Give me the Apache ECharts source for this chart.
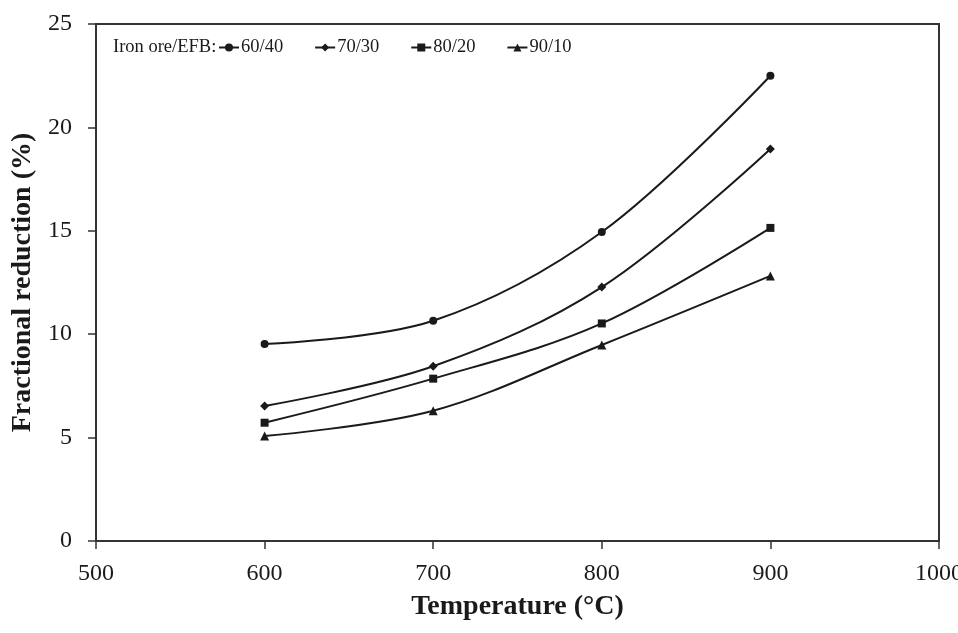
<!DOCTYPE html>
<html>
<head>
<meta charset="utf-8">
<script src="https://cdn.jsdelivr.net/npm/echarts@6/dist/echarts.min.js"></script>
<style>
  html, body { margin: 0; padding: 0; background: #fff; }
  #chart { width: 958px; height: 633px; }
</style>
</head>
<body>
<div id="chart"></div>
<script>
// temperatures (°C) and fractional reduction (%) per iron ore/EFB ratio
var temps = [600, 700, 800, 900];
var ratio6040 = [9.53, 10.65, 14.94, 22.5];
var ratio7030 = [6.53, 8.45, 12.28, 18.96];
var ratio8020 = [5.72, 7.85, 10.52, 15.14];
var ratio9010 = [5.08, 6.3, 9.48, 12.82];

var names = ['60/40', '70/30', '80/20', '90/10'];
var symbols = ['circle', 'diamond', 'rect', 'triangle'];
var sizes = [8, 9, 8, 9];
var values = [ratio6040, ratio7030, ratio8020, ratio9010];

var font = 'Liberation Serif, Times New Roman, serif';

function pairs(ys) {
  return temps.map(function (t, i) { return [t, ys[i]]; });
}

var series = names.map(function (n, i) {
  return {
    name: n,
    type: 'line',
    data: pairs(values[i]),
    smooth: 0.35,
    symbol: symbols[i],
    symbolSize: sizes[i],
    lineStyle: { color: '#1a1a1a', width: 2 },
    itemStyle: { color: '#1a1a1a' }
  };
});

var chart = echarts.init(document.getElementById('chart'));
chart.setOption({
  animation: false,
  backgroundColor: '#fff',
  grid: {
    left: 96, right: 19, top: 24, bottom: 92,
    outerBoundsMode: 'none', containLabel: false,
    show: true, borderColor: '#333', borderWidth: 2, backgroundColor: 'transparent'
  },
  graphic: [{
    type: 'text', x: 113, y: 47,
    style: { text: 'Iron ore/EFB:', font: '18.5px ' + font, fill: '#1a1a1a', verticalAlign: 'middle' }
  }],
  legend: {
    left: 218, top: 38, padding: 0,
    itemWidth: 20, itemHeight: 10, itemGap: 31,
    textStyle: { fontFamily: font, fontSize: 18.5, color: '#1a1a1a', padding: [0, 0, 0, -3] },
    data: names
  },
  xAxis: {
    type: 'value', min: 500, max: 1000, interval: 100,
    name: 'Temperature (°C)', nameLocation: 'middle', nameGap: 52,
    nameTextStyle: { fontFamily: font, fontSize: 28, fontWeight: 'bold', color: '#1a1a1a' },
    axisLine: { show: true, lineStyle: { color: '#333', width: 2 } },
    axisTick: { show: true, inside: false, length: 8, lineStyle: { color: '#333', width: 1.5 } },
    axisLabel: { fontFamily: font, fontSize: 24, color: '#1a1a1a', margin: 21, formatter: function (v) { return String(v); } },
    splitLine: { show: false }
  },
  yAxis: {
    type: 'value', min: 0, max: 25, interval: 5,
    name: 'Fractional reduction (%)', nameLocation: 'middle', nameGap: 57,
    nameTextStyle: { fontFamily: font, fontSize: 28, fontWeight: 'bold', color: '#1a1a1a' },
    axisLine: { show: true, lineStyle: { color: '#333', width: 2 } },
    axisTick: { show: true, inside: false, length: 8, lineStyle: { color: '#333', width: 1.5 } },
    axisLabel: { fontFamily: font, fontSize: 24, color: '#1a1a1a', margin: 24 },
    splitLine: { show: false }
  },
  series: series
});
window.addEventListener('resize', function () { chart.resize(); });
</script>
</body>
</html>
